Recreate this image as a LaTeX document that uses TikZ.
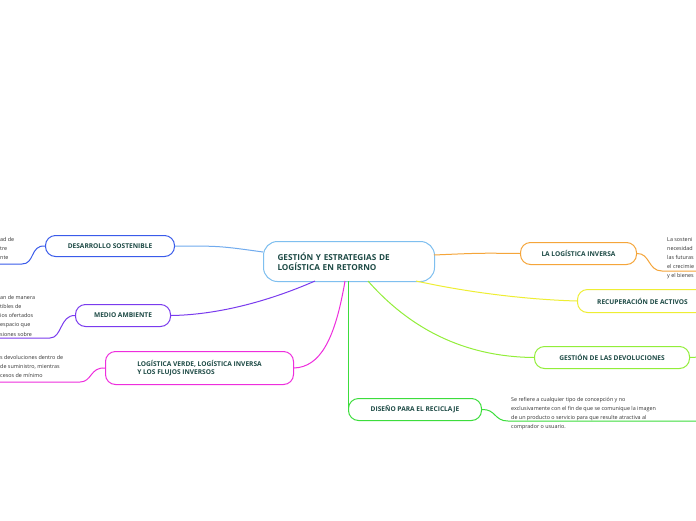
\documentclass[tikz,border=0pt]{standalone}
\usepackage{fontspec}
\setmainfont{Open Sans}
\definecolor{tx}{HTML}{1D4A45}
\definecolor{cb}{HTML}{7FBFEF}
\definecolor{cds}{HTML}{3A5BEA}
\definecolor{cma}{HTML}{7A3BEE}
\definecolor{clv}{HTML}{EE2EDD}
\definecolor{cli}{HTML}{F5A53A}
\definecolor{cra}{HTML}{EEEE33}
\definecolor{cgd}{HTML}{92EE3A}
\definecolor{cdr}{HTML}{3CDD3C}
\tikzset{
 topic/.style={draw,line width=1pt,rounded corners=10pt,fill=white,font=\bfseries\fontsize{6.6}{8}\selectfont,text=tx,inner xsep=8pt,align=left,anchor=north west},
 note/.style={font=\fontsize{5.4}{9.2}\selectfont,text=black!80,align=left,anchor=north west,inner sep=0pt},
 conn/.style={line width=1pt}
}
\begin{document}
\begin{tikzpicture}[x=1pt,y=-1pt]
\fill[white] (0,0) rectangle (696,520);
\clip (0,0) rectangle (696,520);
% central
\node[topic,draw=cb,font=\bfseries\fontsize{8.2}{10.5}\selectfont,minimum width=171pt,minimum height=40pt,inner xsep=14pt,rounded corners=14pt,text width=143pt] (c) at (263,241) {GESTIÓN Y ESTRATEGIAS DE\\LOGÍSTICA EN RETORNO};
\node[topic,draw=cds,minimum width=129pt,minimum height=21pt] (ds) at (45,235) {DESARROLLO SOSTENIBLE};
\node[topic,draw=cma,minimum width=95pt,minimum height=22pt] (ma) at (75,304) {MEDIO AMBIENTE};
\node[topic,draw=clv,minimum width=188pt,minimum height=33pt,inner xsep=16pt] (lv) at (105,351) {LOGÍSTICA VERDE, LOGÍSTICA INVERSA\\Y LOS FLUJOS INVERSOS};
\node[topic,draw=cli,minimum width=116pt,minimum height=22pt,inner xsep=13pt] (li) at (520,242) {LA LOGÍSTICA INVERSA};
\node[topic,draw=cra,minimum width=130pt,minimum height=23pt,inner xsep=12pt] (ra) at (577,289) {RECUPERACIÓN DE ACTIVOS};
\node[topic,draw=cgd,minimum width=155pt,minimum height=22pt,inner xsep=13pt] (gd) at (534,346) {GESTIÓN DE LAS DEVOLUCIONES};
\node[topic,draw=cdr,minimum width=133pt,minimum height=22pt,inner xsep=12pt] (dr) at (348,398) {DISEÑO PARA EL RECICLAJE};
% connectors
\draw[conn,cb!80!cds] (c.west|-0,252) .. controls (220,246) .. (ds.east);
\draw[conn,cma] (315,281) .. controls (260,305) and (210,315) .. (ma.east);
\draw[conn,clv] (345,281) .. controls (335,340) and (320,367) .. (lv.east);
\draw[conn,cdr] (348,281) -- (dr.west);
\draw[conn,cgd] (368,281) .. controls (420,340) and (480,357) .. (gd.west);
\draw[conn,cra] (416,281) .. controls (480,295) and (540,300) .. (ra.west);
\draw[conn,cli] (434,255) .. controls (480,253) .. (li.west);
% notes
\node[note] (nds) at (0,237) {ad de\\tre\\nte};
\draw[conn,cds] (0,264) -- (22,264) .. controls (35,264) and (30,245) .. (ds.west);
\node[note] (nma) at (0,295) {an de manera\\tibles de\\ios ofertados\\espacio que\\siones sobre};
\draw[conn,cma] (0,338) -- (50,338) .. controls (62,338) and (60,315) .. (ma.west);
\node[note] (nlv) at (0,355) {s devoluciones dentro de\\ de suministro, mientras\\cesos de mínimo};
\draw[conn,clv] (0,382) -- (80,382) .. controls (92,382) and (90,367) .. (lv.west);
\node[note] (nli) at (667,237) {La sosteni\\necesidad\\las futuras\\el crecimie\\y el bienes};
\draw[conn,cli] (li.east) .. controls (650,253) and (648,271) .. (662,271) -- (700,271);
\draw[conn,cgd] (gd.east) -- (700,357);
\node[note] (ndr) at (511,397) {Se refiere a cualquier tipo de concepción y no\\exclusivamente con el fin de que se comunique la imagen\\de un producto o servicio para que resulte atractiva al\\comprador o usuario.};
\draw[conn,cdr] (dr.east) .. controls (496,409) and (494,421) .. (508,421) -- (700,421);
\end{tikzpicture}
\end{document}
